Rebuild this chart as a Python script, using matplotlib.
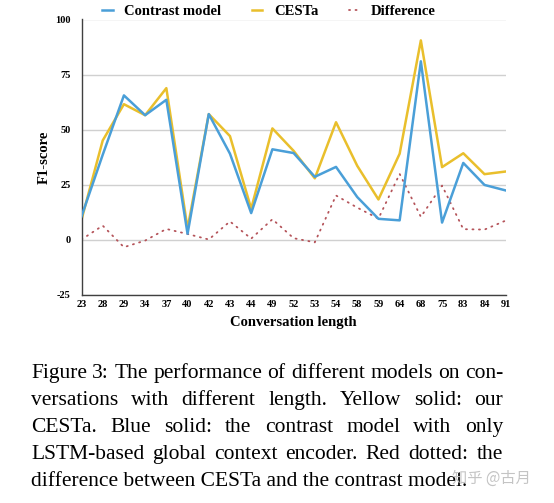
import matplotlib
matplotlib.use("Agg")
import matplotlib.pyplot as plt
import numpy as np

plt.rcParams['axes.unicode_minus'] = False

# data
lengths = ["23", "28", "29", "34", "37", "40", "42", "43", "44", "49", "52",
           "53", "54", "58", "59", "64", "68", "75", "83", "84", "91"]
contrast = [10.5, 38.5, 65.5, 56.5, 63.5, 2.6, 57.0, 39.0, 12.0, 41.0, 39.3,
            28.5, 33.0, 19.3, 9.4, 8.7, 81.0, 7.7, 34.8, 24.8, 22.3]
cesta = [9.0, 45.0, 61.5, 56.5, 68.8, 5.0, 57.0, 47.0, 14.0, 50.5, 40.3,
         27.8, 53.3, 33.5, 18.2, 39.0, 90.5, 32.9, 39.2, 29.7, 30.9]
difference = [0.0, 6.3, -3.5, -0.5, 4.8, 2.5, 0.0, 8.2, 0.4, 9.2, 0.6,
              -1.3, 20.0, 14.5, 9.5, 29.8, 10.3, 24.5, 4.7, 4.5, 8.6]
yticks = [-25, 0, 25, 50, 75, 100]

caption = [
    "Figure 3: The performance of different models on con-",
    "versations with different length.  Yellow solid: our",
    "CESTa.  Blue solid: the contrast model with only",
    "LSTM-based global context encoder. Red dotted: the",
    "difference between CESTa and the contrast model.",
]

BLUE = '#4A9FD8'
YELLOW = '#E9BF2C'
RED = '#B5545A'
SERIF = 'Liberation Serif'

W, H = 554, 503
fig = plt.figure(figsize=(W / 100, H / 100), dpi=100)
ax = fig.add_axes([81.5 / W, 1 - 294.5 / H, 424.2 / W, 275 / H])

x = np.arange(len(lengths))
l1, = ax.plot(x, contrast, color=BLUE, lw=1.8, label='Contrast model')
l2, = ax.plot(x, cesta, color=YELLOW, lw=1.8, label='CESTa')
l3, = ax.plot(x, difference, color=RED, lw=1.3, linestyle=(0, (0.6, 3.0)),
              dash_capstyle='round', label='Difference')
l2.set_zorder(2)
l1.set_zorder(3)

ax.set_xlim(0, len(lengths) - 1)
ax.set_ylim(-25, 100)
ax.set_yticks(yticks)
ax.set_xticks(x)
ax.set_xticklabels(lengths)
ax.tick_params(length=0)
ax.tick_params(axis='y', pad=8)
ax.tick_params(axis='x', pad=4)
for lab in ax.get_xticklabels() + ax.get_yticklabels():
    lab.set_fontfamily(SERIF)
    lab.set_fontweight('bold')
    lab.set_fontsize(7.5)

ax.grid(axis='y', color='#d0d0d0', lw=1.0)
ax.set_axisbelow(True)
for s in ['top', 'right']:
    ax.spines[s].set_visible(False)
for s in ['left', 'bottom']:
    ax.spines[s].set_color('#404040')
    ax.spines[s].set_linewidth(1.0)

ax.set_ylabel('F1-score', fontfamily=SERIF, fontweight='bold', fontsize=10.5)
ax.yaxis.set_label_coords(-0.072, 0.5)
ax.set_xlabel('Conversation length', fontfamily=SERIF, fontweight='bold',
              fontsize=10.5, labelpad=5)

fig.legend(handles=[l1, l2, l3], loc='center', bbox_to_anchor=(269 / W, 1 - 11 / H),
           ncol=3, frameon=False, handlelength=0.7, handletextpad=0.8,
           columnspacing=2.1, prop={'family': SERIF, 'weight': 'bold', 'size': 10.5})

# justified caption, word by word
fig.canvas.draw()
renderer = fig.canvas.get_renderer()
left, right = 31, 503
for i, line in enumerate(caption):
    yb = 1 - (378 + 27.1 * i) / H
    words = line.split()
    if i == len(caption) - 1:
        fig.text(left / W, yb, line, fontfamily=SERIF, fontsize=15.5, va='baseline')
        continue
    texts = [fig.text(0, yb, w, fontfamily=SERIF, fontsize=15.5, va='baseline') for w in words]
    widths = [t.get_window_extent(renderer).width for t in texts]
    gap = (right - left - sum(widths)) / (len(words) - 1)
    pos = left
    for t, w in zip(texts, widths):
        t.set_x(pos / W)
        pos += w + gap

# site watermark, overlapping the caption as in the source image
fig.text(452 / W, 1 - 478 / H, '知乎 @古月', fontfamily=['Noto Sans CJK SC', 'DejaVu Sans'],
         fontsize=11, color='#c4c4c4', va='center')

fig.savefig('out.png', dpi=100)
